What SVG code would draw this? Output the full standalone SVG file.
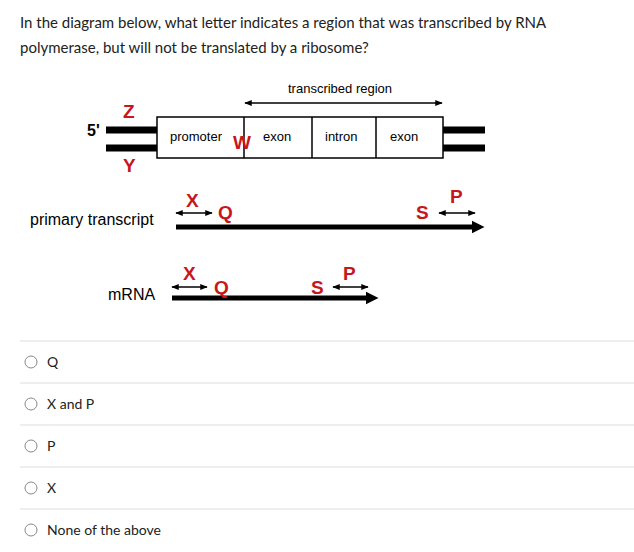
<svg xmlns="http://www.w3.org/2000/svg" width="634" height="552" viewBox="0 0 634 552">
<defs>
<marker id="ah" viewBox="0 0 10 10" refX="9" refY="5" markerWidth="5" markerHeight="5" orient="auto-start-reverse"><path d="M0,1 L10,5 L0,9 z" fill="#000"/></marker>
<marker id="big" viewBox="0 0 10 10" refX="5" refY="5" markerWidth="2.6" markerHeight="3" orient="auto"><path d="M0,0 L10,5 L0,10 z" fill="#000"/></marker>
</defs>
<style>
.q{font-family:Lato,"Liberation Sans",sans-serif;font-size:15px;fill:#222}
.a{font-family:"Liberation Sans",Arial,sans-serif;font-size:13px;fill:#000}
.r{font-family:"Liberation Sans",Arial,sans-serif;font-size:19px;font-weight:bold;fill:#c8161d}
.lbl{font-family:"Liberation Sans",Arial,sans-serif;font-size:16px;fill:#000}
.box{fill:#fff;stroke:#000;stroke-width:1.5}
.bar{stroke:#000;stroke-width:7}
.sm{stroke:#000;stroke-width:1.5;marker-start:url(#ah);marker-end:url(#ah)}
.sep{stroke:#ddd;stroke-width:1}
.rad{fill:#fff;stroke:#888;stroke-width:1}
.o{font-family:Lato,"Liberation Sans",sans-serif;font-size:14px;fill:#222}
</style>
<text class="q" x="20" y="28">In the diagram below, what letter indicates a region that was transcribed by RNA</text>
<text class="q" x="20" y="53">polymerase, but will not be translated by a ribosome?</text>
<g id="dna">
<line class="bar" x1="106" y1="130" x2="157" y2="130"/><line class="bar" x1="106" y1="148" x2="157" y2="148"/>
<line class="bar" x1="443" y1="130" x2="485" y2="130"/><line class="bar" x1="443" y1="148" x2="485" y2="148"/>
<rect class="box" x="157" y="117" width="286" height="41"/>
<line x1="244" y1="117" x2="244" y2="158" stroke="#000" stroke-width="1.5"/>
<line x1="312" y1="117" x2="312" y2="158" stroke="#000" stroke-width="1.5"/>
<line x1="376" y1="117" x2="376" y2="158" stroke="#000" stroke-width="1.5"/>
<text class="a" x="170" y="141">promoter</text><text class="a" x="263" y="141">exon</text>
<text class="a" x="325" y="141">intron</text><text class="a" x="390" y="141">exon</text>
<text class="lbl" x="87" y="136" font-weight="bold">5'</text>
<text class="r" x="123" y="118">Z</text><text class="r" x="123" y="172">Y</text><text class="r" x="233" y="149">W</text>
<text class="a" x="288" y="93">transcribed region</text>
</g>
<g id="connectors">
<line class="sm" x1="245" y1="103" x2="442" y2="103"/>
<line x1="176" y1="227" x2="478" y2="227" stroke="#000" stroke-width="5" marker-end="url(#big)"/>
<line class="sm" x1="176" y1="213" x2="212" y2="213"/>
<line class="sm" x1="439" y1="213" x2="475" y2="213"/>
<line x1="172" y1="298" x2="372" y2="298" stroke="#000" stroke-width="5" marker-end="url(#big)"/>
<line class="sm" x1="172" y1="287" x2="207" y2="287"/>
<line class="sm" x1="333" y1="287" x2="368" y2="287"/>
</g>
<g id="transcripts">
<text class="lbl" x="30" y="225">primary transcript</text>
<text class="lbl" x="108" y="300">mRNA</text>
<text class="r" x="186" y="207">X</text><text class="r" x="218" y="219">Q</text>
<text class="r" x="416" y="219">S</text><text class="r" x="450" y="203">P</text>
<text class="r" x="183" y="280">X</text><text class="r" x="214" y="294">Q</text>
<text class="r" x="311" y="294">S</text><text class="r" x="343" y="280">P</text>
</g>
<g id="options">
<line class="sep" x1="20" y1="341" x2="634" y2="341"/>
<line class="sep" x1="20" y1="383" x2="634" y2="383"/>
<line class="sep" x1="20" y1="425" x2="634" y2="425"/>
<line class="sep" x1="20" y1="467" x2="634" y2="467"/>
<line class="sep" x1="20" y1="509" x2="634" y2="509"/>
<circle class="rad" cx="31" cy="362" r="6"/><text class="o" x="47" y="367">Q</text>
<circle class="rad" cx="31" cy="404" r="6"/><text class="o" x="47" y="409">X and P</text>
<circle class="rad" cx="31" cy="446" r="6"/><text class="o" x="47" y="451">P</text>
<circle class="rad" cx="31" cy="488" r="6"/><text class="o" x="47" y="493">X</text>
<circle class="rad" cx="31" cy="530" r="6"/><text class="o" x="47" y="535">None of the above</text>
</g>
</svg>
